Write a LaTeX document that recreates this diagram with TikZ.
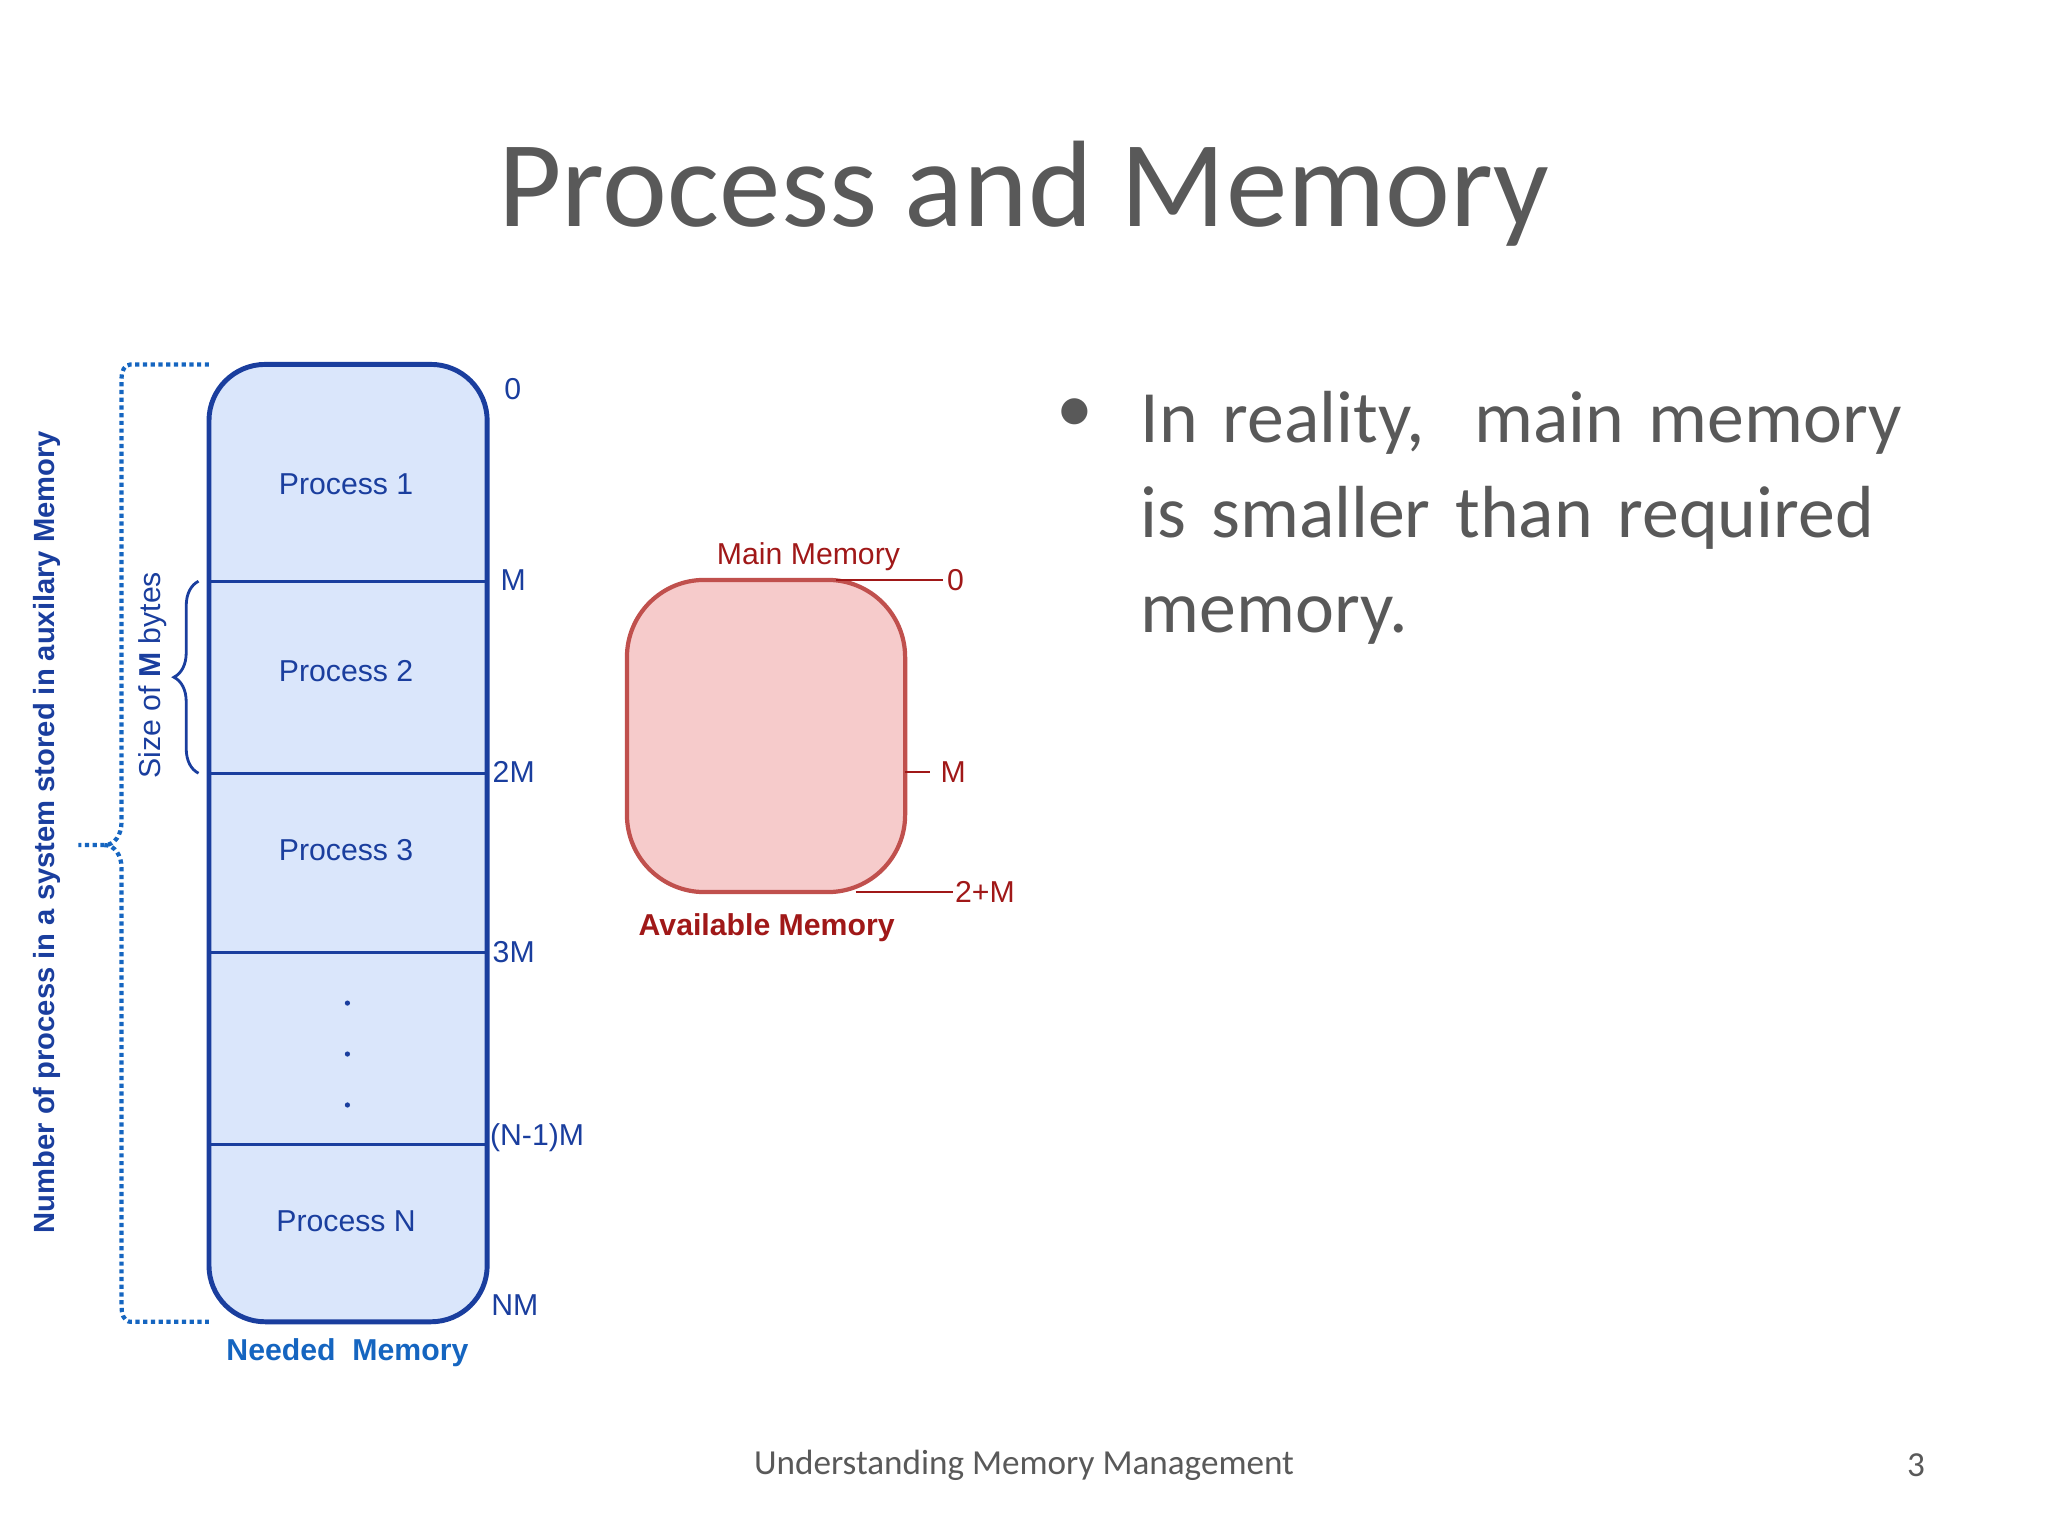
\documentclass[tikz,border=0pt]{standalone}
\usepackage{fontspec}
\setmainfont{Carlito}
\newfontfamily\diagfont{Liberation Sans}
\usetikzlibrary{decorations.pathreplacing}
\definecolor{slidegray}{HTML}{595959}
\definecolor{needfill}{HTML}{DAE6FB}
\definecolor{needline}{HTML}{1A3E9E}
\definecolor{needtext}{HTML}{1565C0}
\definecolor{mainfill}{HTML}{F6CBCB}
\definecolor{mainline}{HTML}{C0504D}
\definecolor{maintext}{HTML}{A01818}
\begin{document}
\begin{tikzpicture}[x=0.01306cm, y=-0.01306cm]
  \tikzstyle{lbl}=[font=\diagfont\fontsize{8.6}{10}\selectfont, inner sep=1pt]
  \tikzstyle{proc}=[lbl, text=needline]
  \tikzstyle{addr}=[lbl, text=needline, anchor=west]
  \tikzstyle{maddr}=[lbl, text=maintext, anchor=west]
  \useasboundingbox (0,0) rectangle (1568,1176);

  % Slide text
  \node[text=slidegray, font=\fontsize{35}{42}\selectfont] (title) at (784,148) {Process and Memory};
  \node[text=slidegray, font=\fontsize{21}{27}\selectfont, anchor=north west, text width=9cm, align=left] (bullet) at (864,290)
    {In reality,\ \ main memory\\ is smaller than required\\ memory.};
  \node[text=slidegray, font=\fontsize{21}{27}\selectfont] (dot) at (823,318) {\textbullet};
  \node[text=slidegray, font=\fontsize{10}{12}\selectfont] (footer) at (784,1122) {Understanding Memory Management};
  \node[text=slidegray, font=\fontsize{10}{12}\selectfont] (page) at (1467,1122) {3};

  % Needed memory
  \draw[needline, fill=needfill, line width=1.4pt, rounded corners=16] (160,279) rectangle (373,1012);
  \foreach \y in {445,592,729,876}
    \draw[needline, line width=0.8pt] (160,\y) -- (373,\y);
  \node[proc] (P1) at (265,371) {Process 1};
  \node[proc] (P2) at (265,514) {Process 2};
  \node[proc] (P3) at (265,651) {Process 3};
  \foreach \y in {768,807,846}
    \fill[needline] (266,\y) circle (2);
  \node[proc] (PN) at (265,935) {Process N};
  \node[addr] (A0) at (383,298) {0};
  \node[addr] (A1) at (380,444) {M};
  \node[addr] (A2) at (374,591) {2M};
  \node[addr] (A3) at (374,729) {3M};
  \node[addr] (A4) at (372,871) {(N-1)M};
  \node[addr] (A5) at (373,999) {NM};
  \node[text=needtext, font=\diagfont\bfseries\fontsize{8.6}{10}\selectfont] (needed) at (266,1036) {Needed\ \ Memory};

  % Brackets
  \draw[needtext, densely dotted, line width=1.2pt] (160,279) -- (100,279) to[out=180,in=90] (93,290) -- (93,630)
    to[out=-90,in=0] (80,647) -- (60,647);
  \draw[needtext, densely dotted, line width=1.2pt] (80,647) to[out=0,in=90] (93,664) -- (93,1000)
    to[out=-90,in=180] (100,1012) -- (160,1012);
  \node[rotate=90, text=needline, font=\diagfont\bfseries\fontsize{8.3}{10}\selectfont] (count) at (36,637)
    {Number of process in a system stored in auxilary Memory};
  \draw[needline, line width=0.8pt, decorate, decoration={brace, amplitude=7}] (152,592) -- (152,445);
  \node[rotate=90, lbl, text=needline] (size) at (117,517) {Size of \textbf{M} bytes};

  % Main memory
  \draw[mainline, fill=mainfill, line width=1.2pt, rounded corners=22] (480,444) rectangle (693,683);
  \draw[maintext, line width=0.8pt] (640,444) -- (722,444);
  \draw[maintext, line width=0.8pt] (693,591) -- (712,591);
  \draw[maintext, line width=0.8pt] (655,683) -- (730,683);
  \node[lbl, text=maintext] (mm) at (619,426) {Main Memory};
  \node[maddr] (B0) at (722,444) {0};
  \node[maddr] (B1) at (717,591) {M};
  \node[maddr] (B2) at (728,683) {2+M};
  \node[text=maintext, font=\diagfont\bfseries\fontsize{8.6}{10}\selectfont] (avail) at (587,710) {Available Memory};
\end{tikzpicture}
\end{document}
